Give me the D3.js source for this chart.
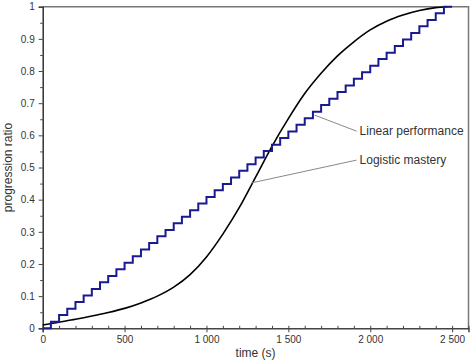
<!DOCTYPE html>
<html>
<head>
<meta charset="utf-8">
<script src="https://cdn.jsdelivr.net/npm/d3@7"></script>
<style>
  body { margin: 0; background: #fff; }
  svg { display: block; font-family: "Liberation Sans", Arial, sans-serif; }
</style>
</head>
<body>
<div id="chart"></div>
<script>
var width = 474, height = 363;
var margin = { top: 6.7, right: 5.5, bottom: 34.7, left: 42.7 };

// logistic mastery
var logisticTime = [0, 100, 200, 300, 400, 500, 600, 700, 800, 900, 1000, 1100, 1200,
  1300, 1400, 1500, 1600, 1700, 1800, 1900, 2000, 2100, 2200, 2300, 2400, 2470];
var logisticRatio = [0.010, 0.019, 0.028, 0.038, 0.049, 0.062, 0.079, 0.100, 0.128, 0.167,
  0.222, 0.293, 0.375, 0.470, 0.566, 0.652, 0.730, 0.793, 0.847, 0.891, 0.928, 0.955,
  0.974, 0.988, 0.997, 1.0];

// linear performance staircase (one step every 50 s)
var stepTime = [0, 50, 100, 150, 200, 250, 300, 350, 400, 450, 500, 550, 600, 650, 700,
  750, 800, 850, 900, 950, 1000, 1050, 1100, 1150, 1200, 1250, 1300, 1350, 1400, 1450,
  1500, 1550, 1600, 1650, 1700, 1750, 1800, 1850, 1900, 1950, 2000, 2050, 2100, 2150,
  2200, 2250, 2300, 2350, 2400, 2450, 2500];
var stepRatio = [0, 0.020, 0.041, 0.061, 0.082, 0.102, 0.122, 0.143, 0.163, 0.184, 0.204,
  0.224, 0.245, 0.265, 0.286, 0.306, 0.327, 0.347, 0.367, 0.388, 0.408, 0.429, 0.449,
  0.469, 0.490, 0.510, 0.531, 0.551, 0.571, 0.592, 0.612, 0.633, 0.653, 0.673, 0.694,
  0.714, 0.735, 0.755, 0.776, 0.796, 0.816, 0.837, 0.857, 0.878, 0.898, 0.918, 0.939,
  0.959, 0.980, 1.000, 1.000];

var xTicks = [0, 500, 1000, 1500, 2000, 2500];
var yTicks = [0, 0.1, 0.2, 0.3, 0.4, 0.5, 0.6, 0.7, 0.8, 0.9, 1];

// annotations: label, anchor point on the curve (time, ratio), label position (time, ratio)
var labels = ["Linear performance", "Logistic mastery"];
var anchorTime = [1660, 1274];
var anchorRatio = [0.663, 0.452];
var labelTime = [1935, 1935];
var labelRatio = [0.613, 0.523];

var svg = d3.select("#chart").append("svg")
  .attr("width", width)
  .attr("height", height);

var x = d3.scaleLinear().domain([0, 2600]).range([margin.left, width - margin.right]);
var y = d3.scaleLinear().domain([0, 1]).range([height - margin.bottom, margin.top]);

var spaced = d3.formatLocale({ decimal: ".", thousands: " ", grouping: [3], currency: ["", ""] }).format(",");

// frame (top and right in grey)
svg.append("path")
  .attr("d", "M" + x.range()[0] + "," + y(1) + "H" + x.range()[1] + "V" + y(0))
  .attr("fill", "none")
  .attr("stroke", "#777")
  .attr("stroke-width", 1.5);

// x axis
var xMinor = svg.append("g")
  .attr("transform", "translate(0," + y(0) + ")")
  .call(d3.axisBottom(x).tickValues(d3.range(0, 2601, 100)).tickSize(-2.5).tickFormat(""));
xMinor.select(".domain").remove();
xMinor.selectAll("line").attr("stroke", "#444");

var xAxis = svg.append("g")
  .attr("transform", "translate(0," + y(0) + ")")
  .call(d3.axisBottom(x).tickValues(xTicks).tickSize(4).tickPadding(4).tickFormat(spaced));
xAxis.select(".domain").attr("stroke", "#444").attr("stroke-width", 1.5);
xAxis.selectAll("line").attr("stroke", "#444");
xAxis.selectAll("text").attr("fill", "#333").style("font-size", "10px");

// y axis
var yMinor = svg.append("g")
  .attr("transform", "translate(" + x(0) + ",0)")
  .call(d3.axisLeft(y).tickValues(d3.range(0.05, 1, 0.1)).tickSize(2.5).tickFormat(""));
yMinor.select(".domain").remove();
yMinor.selectAll("line").attr("stroke", "#444");

var yAxis = svg.append("g")
  .attr("transform", "translate(" + x(0) + ",0)")
  .call(d3.axisLeft(y).tickValues(yTicks).tickSize(4).tickPadding(4).tickFormat(d3.format("~g")));
yAxis.select(".domain").attr("stroke", "#333").attr("stroke-width", 1.5);
yAxis.selectAll("line").attr("stroke", "#444");
yAxis.selectAll("text").attr("fill", "#333").style("font-size", "10px");

// axis titles
svg.append("text")
  .attr("x", (x.range()[0] + x.range()[1]) / 2)
  .attr("y", 357)
  .attr("text-anchor", "middle")
  .attr("fill", "#333")
  .style("font-size", "12px")
  .text("time (s)");

svg.append("text")
  .attr("transform", "translate(12," + (y(0) + y(1)) / 2 + ") rotate(-90)")
  .attr("text-anchor", "middle")
  .attr("fill", "#333")
  .style("font-size", "12px")
  .text("progression ratio");

// curves
var logisticData = logisticTime.map(function (t, i) { return [t, logisticRatio[i]]; });
var stepData = stepTime.map(function (t, i) { return [t, stepRatio[i]]; });

svg.append("path")
  .datum(logisticData)
  .attr("fill", "none")
  .attr("stroke", "#000")
  .attr("stroke-width", 1.6)
  .attr("d", d3.line()
    .x(function (d) { return x(d[0]); })
    .y(function (d) { return y(d[1]); })
    .curve(d3.curveMonotoneX));

svg.append("path")
  .datum(stepData)
  .attr("fill", "none")
  .attr("stroke", "#1a1a8e")
  .attr("stroke-width", 2)
  .attr("d", d3.line()
    .x(function (d) { return x(d[0]); })
    .y(function (d) { return y(d[1]); })
    .curve(d3.curveStepAfter));

// annotations
labels.forEach(function (lab, i) {
  svg.append("line")
    .attr("x1", x(anchorTime[i]))
    .attr("y1", y(anchorRatio[i]))
    .attr("x2", x(labelTime[i]) - 3)
    .attr("y2", y(labelRatio[i]))
    .attr("stroke", "#888")
    .attr("stroke-width", 1);
  svg.append("text")
    .attr("x", x(labelTime[i]))
    .attr("y", y(labelRatio[i]))
    .attr("dy", "0.35em")
    .attr("fill", "#333")
    .style("font-size", "12px")
    .text(lab);
});
</script>
</body>
</html>
